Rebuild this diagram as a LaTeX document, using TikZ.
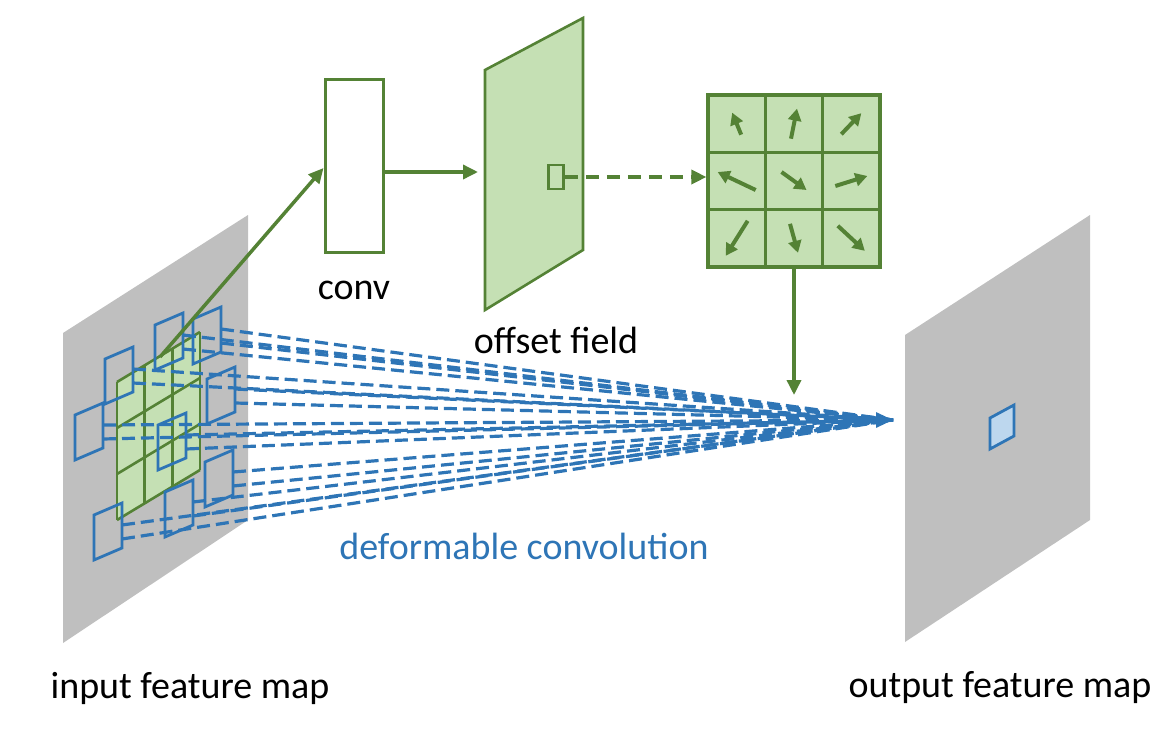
\documentclass[tikz,border=0pt]{standalone}
\usepackage{fontspec}
\setmainfont{Carlito}
\usetikzlibrary{arrows.meta}
\definecolor{gr}{RGB}{84,130,53}
\definecolor{lgr}{RGB}{197,224,180}
\definecolor{bl}{RGB}{46,117,182}
\definecolor{lbl}{RGB}{189,215,238}
\definecolor{gy}{RGB}{191,191,191}
\begin{document}
\begin{tikzpicture}[x=1pt,y=-1pt,
  garr/.style={draw=gr,line width=3.5pt,-{Triangle[length=15pt,width=14pt]}},
  bsq/.style={draw=bl,line width=2.8pt},
  bdash/.style={draw=bl,line width=3.2pt,dash pattern=on 13pt off 6pt},
  lab/.style={font=\fontsize{38}{44}\selectfont,inner sep=0pt}]
\useasboundingbox (0,0) rectangle (1176,734);
% input map
\fill[gy] (63,333) -- (248,215) -- (248,520) -- (63,643) -- cycle;
% green grid
\fill[lgr] (117,382) -- (200,332) -- (200,470) -- (117,520) -- cycle;
\foreach \i in {0,1,2,3}{
  \draw[gr,line width=2.6pt] ({117+\i*83/3},{382-\i*50/3}) -- ({117+\i*83/3},{520-\i*50/3});
  \draw[gr,line width=2.6pt] (117,{382+\i*46}) -- (200,{332+\i*46});}
% output map
\fill[gy] (905,335) -- (1090,215) -- (1090,520) -- (905,642) -- cycle;
\draw[bsq,fill=lbl] (990,418) -- (1014,405) -- (1014,436) -- (990,449) -- cycle;
\coordinate (tip) at (893,420);
% blue squares and dashed lines
\foreach \n/\x/\y in {A/75/433,B/105/377,C/155/343,D/193/337,E/207/397,F/158/443,G/205/480,H/165/510,I/94/533}{
  \draw[bsq] (\x,\y-18) -- (\x+28,\y-30) -- (\x+28,\y+15) -- (\x,\y+27) -- cycle;
  \coordinate (\n1) at (\x+28,\y-8);
  \coordinate (\n2) at (\x+28,\y+6);
  \draw[bdash] (\n1) -- (tip);
  \draw[bdash] (\n2) -- (tip);
}
\draw[bl,-{Triangle[length=17pt,width=15pt]},line width=3.2pt] (860,420) -- (tip);
% conv
\node[draw=gr,line width=3pt,fill=white,minimum width=58pt,minimum height=173pt,inner sep=0pt] (conv) at (354,166) {};
\node[lab] (convl) at (354,290) {conv};
\coordinate (src) at (160,357);
\draw[garr] (src) -- (conv.west |- 0,168);
% offset field
\fill[lgr,draw=gr,line width=2.6pt] (485,70) -- (583,18) -- (583,250) -- (485,310) -- cycle;
\node[draw=gr,line width=2.6pt,minimum width=15pt,minimum height=24pt,inner sep=0pt] (osq) at (556,177) {};
\node[lab] (offl) at (556,340) {offset field};
\draw[garr] (conv.east |- 0,172) -- (478,172);
% offsets grid
\node[draw=gr,fill=lgr,line width=3.2pt,minimum size=172pt,inner sep=0pt] (grid) at (794,181) {};
\foreach \i in {1,2}{
  \draw[gr,line width=3.2pt] ({708+\i*172/3},95) -- ({708+\i*172/3},267);
  \draw[gr,line width=3.2pt] (708,{95+\i*172/3}) -- (880,{95+\i*172/3});}
\draw[gr,line width=3.5pt,dash pattern=on 13pt off 8pt,-{Triangle[length=15pt,width=14pt]}] (osq.east) -- (grid.west |- osq.east);
\foreach \r/\c/\dx/\dy in {0/0/-9/-22,0/1/6/-30,0/2/20/-21,1/0/-38/-18,1/1/25/18,1/2/32/-10,2/0/-22/35,2/1/8/29,2/2/27/25}{
  \draw[gr,line width=4pt,-{Triangle[length=12pt,width=13pt]}]
    ({708+172/6+\c*172/3-\dx/2},{95+172/6+\r*172/3-\dy/2}) -- ++(\dx,\dy);}
\coordinate (gdown) at (794,395);
\draw[garr] (grid.south) -- (gdown);
% labels
\node[lab] (inl) at (190,688) {input feature map};
\node[lab] (outl) at (1000,688) {output feature map};
\node[lab,text=bl] (defl) at (524,546) {deformable convolution};
\end{tikzpicture}
\end{document}
